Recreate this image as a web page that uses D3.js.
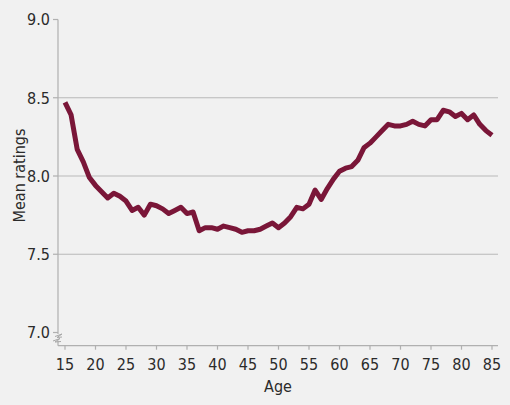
<!DOCTYPE html>
<html>
<head>
<meta charset="utf-8">
<script src="https://cdn.jsdelivr.net/npm/d3@7"></script>
<style>
  html, body { margin: 0; padding: 0; background: #f1f1f1; }
  svg text { font-family: "Liberation Sans Narrow", "DejaVu Sans Condensed", Roboto, sans-serif; fill: #2b2b2b; }
</style>
</head>
<body>
<div id="chart"></div>
<script>
// Mean ratings by age
const ages = [15, 16, 17, 18, 19, 20, 21, 22, 23, 24, 25, 26, 27, 28, 29, 30, 31, 32, 33, 34,
              35, 36, 37, 38, 39, 40, 41, 42, 43, 44, 45, 46, 47, 48, 49, 50, 51, 52, 53, 54,
              55, 56, 57, 58, 59, 60, 61, 62, 63, 64, 65, 66, 67, 68, 69, 70, 71, 72, 73, 74,
              75, 76, 77, 78, 79, 80, 81, 82, 83, 84, 85];
const ratings = [8.47, 8.39, 8.17, 8.09, 7.99, 7.94, 7.90, 7.86, 7.89, 7.87,
                 7.84, 7.78, 7.80, 7.75, 7.82, 7.81, 7.79, 7.76, 7.78, 7.80,
                 7.76, 7.77, 7.65, 7.67, 7.67, 7.66, 7.68, 7.67, 7.66, 7.64,
                 7.65, 7.65, 7.66, 7.68, 7.70, 7.67, 7.70, 7.74, 7.80, 7.79,
                 7.82, 7.91, 7.85, 7.92, 7.98, 8.03, 8.05, 8.06, 8.10, 8.18,
                 8.21, 8.25, 8.29, 8.33, 8.32, 8.32, 8.33, 8.35, 8.33, 8.32,
                 8.36, 8.36, 8.42, 8.41, 8.38, 8.40, 8.36, 8.39, 8.33, 8.29,
                 8.26];
const xTicks = [15, 20, 25, 30, 35, 40, 45, 50, 55, 60, 65, 70, 75, 80, 85];
const yTicks = [7.0, 7.5, 8.0, 8.5, 9.0];
const gridValues = [7.5, 8.0, 8.5];

const width = 510, height = 405;
const axisLeftX = 58, axisRightX = 498, axisBottomY = 345.7;

const svg = d3.select("#chart").append("svg")
    .attr("width", width)
    .attr("height", height);

const x = d3.scaleLinear().domain([15, 85]).range([65, 492]);
const y = d3.scaleLinear().domain([7, 9]).range([332.5, 19.5]);

// gridlines
svg.append("g")
    .selectAll("line")
    .data(gridValues)
    .enter()
    .append("line")
    .attr("x1", axisLeftX)
    .attr("x2", axisRightX)
    .attr("y1", d => y(d))
    .attr("y2", d => y(d))
    .attr("stroke", "#b9b9b9")
    .attr("stroke-width", 1.2);

// y axis line (broken near 7.0)
svg.append("line")
    .attr("x1", axisLeftX).attr("x2", axisLeftX)
    .attr("y1", y(9)).attr("y2", y(7) + 1.5)
    .attr("stroke", "#b0b0b0").attr("stroke-width", 1.2);
svg.append("line")
    .attr("x1", axisLeftX).attr("x2", axisLeftX)
    .attr("y1", y(7) + 8).attr("y2", axisBottomY)
    .attr("stroke", "#b0b0b0").attr("stroke-width", 1.2);

// break symbol
const by = y(7);
svg.append("path")
    .attr("d", `M${axisLeftX - 3},${by + 4} L${axisLeftX + 4},${by + 1.5} L${axisLeftX - 1},${by + 5} L${axisLeftX + 4},${by + 4.5}`
        + ` M${axisLeftX - 5},${by + 8.5} L${axisLeftX + 2},${by + 6} L${axisLeftX - 3},${by + 9.5} L${axisLeftX + 3},${by + 9}`)
    .attr("fill", "none")
    .attr("stroke", "#a8a8a8")
    .attr("stroke-width", 1);

// y ticks and labels
const yAxis = svg.append("g");
yAxis.selectAll("line")
    .data(yTicks)
    .enter()
    .append("line")
    .attr("x1", axisLeftX - 5).attr("x2", axisLeftX)
    .attr("y1", d => y(d)).attr("y2", d => y(d))
    .attr("stroke", "#b0b0b0").attr("stroke-width", 1.2);
yAxis.selectAll("text")
    .data(yTicks)
    .enter()
    .append("text")
    .attr("x", 50)
    .attr("y", d => y(d))
    .attr("dy", "0.36em")
    .attr("text-anchor", "end")
    .attr("font-size", "16px")
    .text(d3.format(".1f"));

// x axis
svg.append("line")
    .attr("x1", axisLeftX).attr("x2", axisRightX)
    .attr("y1", axisBottomY).attr("y2", axisBottomY)
    .attr("stroke", "#b0b0b0").attr("stroke-width", 1.2);
const xAxis = svg.append("g");
xAxis.selectAll("line")
    .data(xTicks)
    .enter()
    .append("line")
    .attr("x1", d => x(d)).attr("x2", d => x(d))
    .attr("y1", axisBottomY).attr("y2", axisBottomY + 4)
    .attr("stroke", "#b0b0b0").attr("stroke-width", 1.2);
xAxis.selectAll("text")
    .data(xTicks)
    .enter()
    .append("text")
    .attr("x", d => x(d))
    .attr("y", 369.5)
    .attr("text-anchor", "middle")
    .attr("font-size", "16px")
    .text(d => d);

// axis titles
svg.append("text")
    .attr("x", 278)
    .attr("y", 391.5)
    .attr("text-anchor", "middle")
    .attr("font-size", "16px")
    .text("Age");
svg.append("text")
    .attr("transform", "translate(25,175.5) rotate(-90)")
    .attr("text-anchor", "middle")
    .attr("font-size", "16px")
    .text("Mean ratings");

// the line
const line = d3.line()
    .x((d, i) => x(ages[i]))
    .y(d => y(d));

svg.append("path")
    .datum(ratings)
    .attr("d", line)
    .attr("fill", "none")
    .attr("stroke", "#7a1638")
    .attr("stroke-width", 5)
    .attr("stroke-linejoin", "round")
    .attr("stroke-linecap", "butt");
</script>
</body>
</html>
